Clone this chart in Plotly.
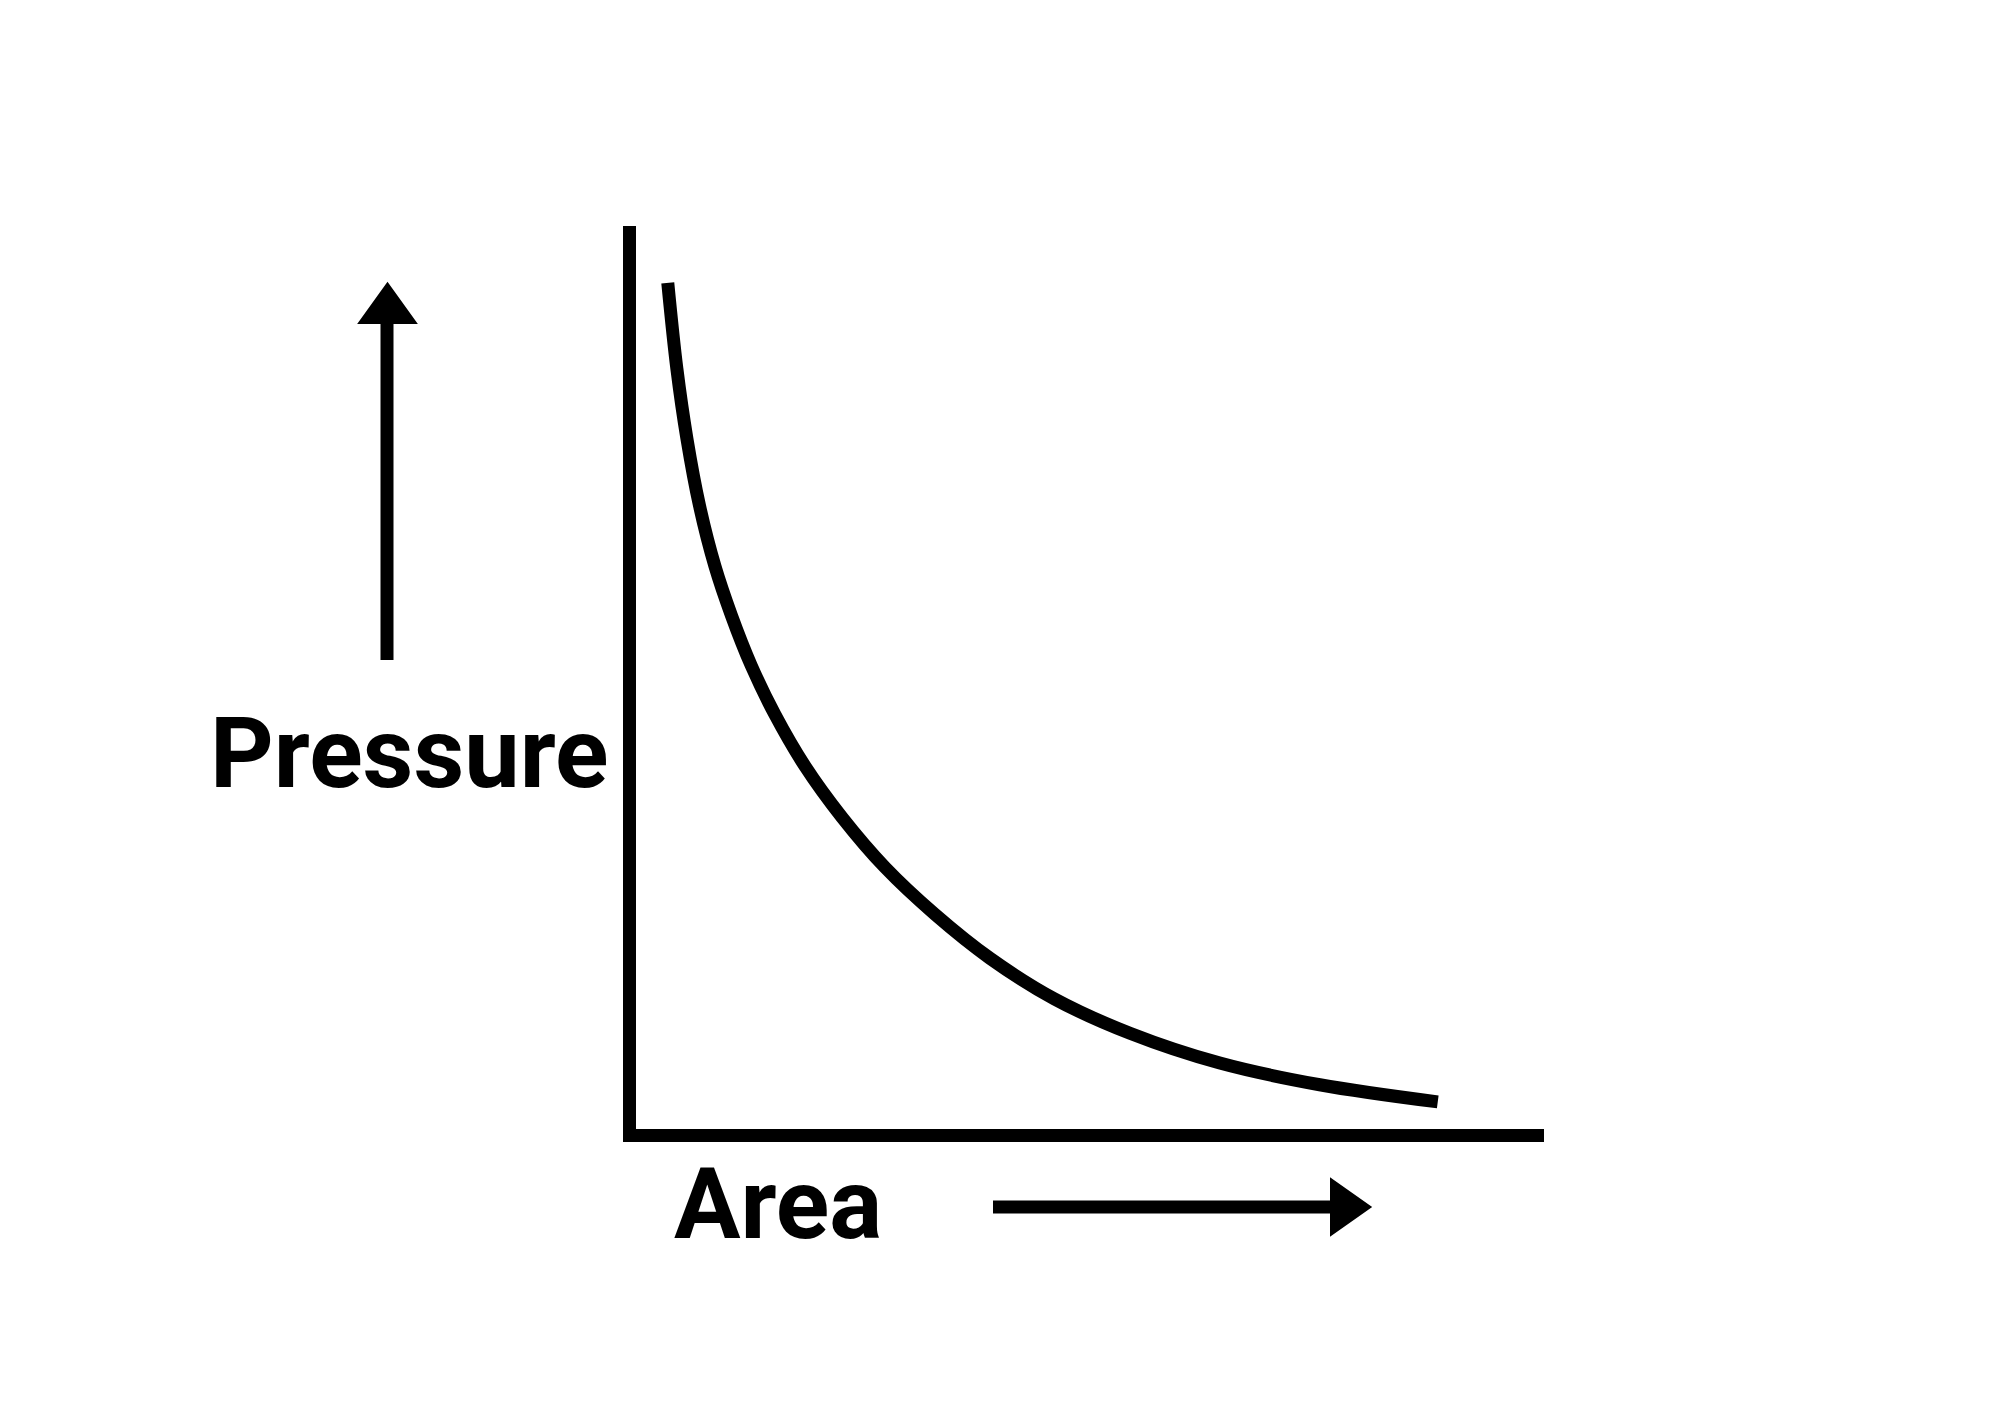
import plotly.graph_objects as go

# puntos de la curva presion vs area (unidades arbitrarias, 0-10)
area = [0.35, 0.45, 0.56, 0.70, 0.87, 1.05, 1.27, 1.53, 1.86, 2.27,
        2.74, 3.29, 3.90, 4.61, 5.44, 6.43, 7.53, 8.83]
pressure = [9.37, 8.42, 7.65, 6.90, 6.23, 5.69, 5.13, 4.59, 4.02, 3.45,
            2.90, 2.38, 1.89, 1.44, 1.06, 0.73, 0.49, 0.30]

x_label = 'Area'
y_label = 'Pressure'

W, H = 2000, 1414
OFF = 8  # margen por defecto del body en el html


def px(x):
    return (x - OFF) / W


def py(y):
    return 1 - (y - OFF) / H


fig = go.Figure()

fig.add_trace(go.Scatter(
    x=area, y=pressure, mode='lines',
    line=dict(color='black', width=13, shape='spline', smoothing=1.0),
    hoverinfo='skip', showlegend=False,
))

# flechas dibujadas como shapes en coordenadas de papel
shapes = [
    # flecha vertical
    dict(type='line', xref='paper', yref='paper',
         x0=px(387), x1=px(387), y0=py(660), y1=py(320),
         line=dict(color='black', width=13)),
    dict(type='path', xref='paper', yref='paper',
         path=f'M {px(363)},{py(321)} L {px(412)},{py(321)} L {px(387.5)},{py(287)} Z',
         fillcolor='black', line=dict(color='black', width=6)),
    # flecha horizontal
    dict(type='line', xref='paper', yref='paper',
         x0=px(993), x1=px(1335), y0=py(1207), y1=py(1207),
         line=dict(color='black', width=13)),
    dict(type='path', xref='paper', yref='paper',
         path=f'M {px(1333)},{py(1183)} L {px(1333)},{py(1231)} L {px(1367)},{py(1207)} Z',
         fillcolor='black', line=dict(color='black', width=6)),
]

annotations = [
    dict(text=f'<b>{y_label}</b>', xref='paper', yref='paper',
         x=px(409), y=py(753), xanchor='center', yanchor='middle',
         showarrow=False, font=dict(family='Roboto', size=99, color='black')),
    dict(text=f'<b>{x_label}</b>', xref='paper', yref='paper',
         x=px(778), y=py(1204), xanchor='center', yanchor='middle',
         showarrow=False, font=dict(family='Roboto', size=99, color='black')),
]

fig.update_layout(
    width=W, height=H,
    margin=dict(l=0, r=0, t=0, b=0),
    paper_bgcolor='white', plot_bgcolor='white',
    shapes=shapes, annotations=annotations,
    showlegend=False,
)

fig.update_xaxes(
    range=[0, 10], domain=[px(636), px(1544)],
    showline=True, linewidth=13, linecolor='black',
    showgrid=False, zeroline=False, showticklabels=False, ticks='',
)
fig.update_yaxes(
    range=[0, 10], domain=[py(1129), py(226)],
    showline=True, linewidth=13, linecolor='black',
    showgrid=False, zeroline=False, showticklabels=False, ticks='',
)

fig.write_html('out.html')
